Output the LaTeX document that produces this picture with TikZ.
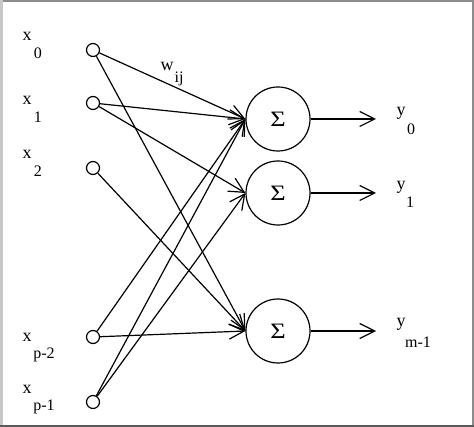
\documentclass[tikz,border=0pt]{standalone}
\usepackage{fontspec}
\usepackage{graphicx}
\setmainfont{Liberation Serif}
\usetikzlibrary{arrows.meta}
\definecolor{framegray}{HTML}{8C8C8C}
\definecolor{framelight}{HTML}{C8C8C8}
\definecolor{framedark}{HTML}{5A5A5A}
\newcommand{\lblfont}{\fontsize{18pt}{21pt}\selectfont}
\newcommand{\subfont}{\fontsize{16pt}{19pt}\selectfont}
\newcommand{\sumfont}{\fontsize{22pt}{25pt}\selectfont}
\newcommand{\sumsign}{\scalebox{1.2}[1]{Σ}}

\tikzset{
  wire/.style={line width=1.2pt, -{Straight Barb[length=15pt, width=15pt, line width=1.2pt]}},
  input/.style={circle, draw, line width=1.2pt, minimum size=13pt, inner sep=0pt},
  neuron/.style={circle, draw, line width=1.2pt, minimum size=64pt, inner sep=0pt, font=\sumfont},
  lbl/.style={inner sep=0pt, font=\lblfont},
  sub/.style={inner sep=0pt, font=\subfont}
}

\begin{document}
\begin{tikzpicture}[x=1pt, y=-1pt]

    \useasboundingbox (0,0) rectangle (474,427);

    % Frame
    \fill[framegray] (0,0) rectangle (474,2);
    \fill[framelight] (0,0) rectangle (2.5,427);
    \fill[framegray] (471.7,0) rectangle (474,427);
    \fill[framedark] (0,425) rectangle (474,427);

    % Inputs
    \node[input] (in0) at (93,50) {};
    \node[input] (in1) at (93,103) {};
    \node[input] (in2) at (93,168) {};
    \node[input] (inp2) at (93,337) {};
    \node[input] (inp1) at (93,402) {};

    % Input labels
    \node[lbl] (lx0) at (27,36) {x};
    \node[sub] (sx0) at (38,53) {0};
    \node[lbl] (lx1) at (27,100) {x};
    \node[sub] (sx1) at (38,117) {1};
    \node[lbl] (lx2) at (27,154) {x};
    \node[sub] (sx2) at (38,171) {2};
    \node[lbl] (lxp2) at (27,337) {x};
    \node[sub] (sxp2) at (44,355) {p-2};
    \node[lbl] (lxp1) at (27,389) {x};
    \node[sub] (sxp1) at (44,407) {p-1};

    % Summing units
    \node[neuron] (sum0) at (278,119) {\sumsign};
    \node[neuron] (sum1) at (278,193) {\sumsign};
    \node[neuron] (summ) at (278,331) {\sumsign};

    % Weights
    \draw[wire] (in0) -- (sum0.west);
    \draw[wire] (in0) -- (summ.west);
    \draw[wire] (in1) -- (sum0.west);
    \draw[wire] (in1) -- (sum1.west);
    \draw[wire] (in2) -- (summ.west);
    \draw[wire] (inp2) -- (sum0.west);
    \draw[wire] (inp2) -- (summ.west);
    \draw[wire] (inp1) -- (sum0.west);
    \draw[wire] (inp1) -- (sum1.west);

    \node[lbl] (lw) at (167,66) {w};
    \node[sub] (sw) at (179,79) {ij};

    % Outputs
    \coordinate (out0) at (376,119);
    \coordinate (out1) at (376,193);
    \coordinate (outm) at (376,331);
    \draw[wire] (sum0.east) -- (out0);
    \draw[wire] (sum1.east) -- (out1);
    \draw[wire] (summ.east) -- (outm);

    \node[lbl] (ly0) at (401,113) {y};
    \node[sub] (sy0) at (411,129) {0};
    \node[lbl] (ly1) at (401,187) {y};
    \node[sub] (sy1) at (410,202) {1};
    \node[lbl] (lym) at (401,324) {y};
    \node[sub] (sym) at (418,342) {m-1};
\end{tikzpicture}
\end{document}
